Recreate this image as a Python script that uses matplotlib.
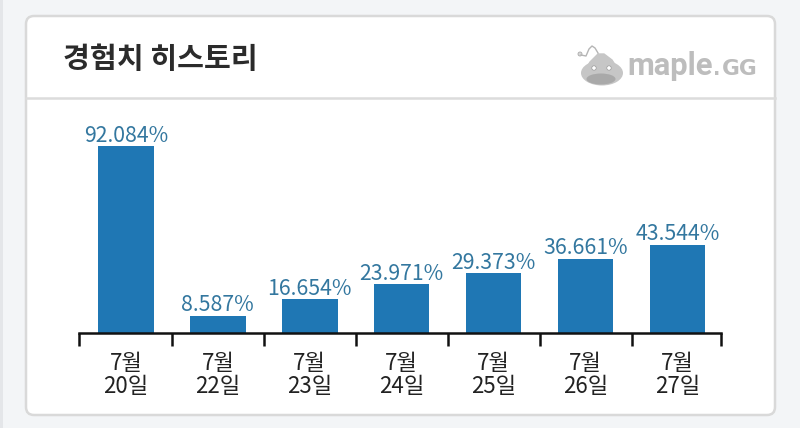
import matplotlib
matplotlib.use('Agg')
import matplotlib.pyplot as plt
from matplotlib.patches import FancyBboxPatch, Ellipse, Polygon, Circle
import numpy as np

plt.rcParams['font.family'] = ['Noto Sans CJK KR', 'DejaVu Sans']

dates = ['7월\n20일', '7월\n22일', '7월\n23일', '7월\n24일', '7월\n25일', '7월\n26일', '7월\n27일']
exp_pct = [92.084, 8.587, 16.654, 23.971, 29.373, 36.661, 43.544]

W, H = 800, 428
fig = plt.figure(figsize=(8, 4.28), dpi=100, facecolor='#f3f5f7')

# page layer in pixel coordinates
bg = fig.add_axes([0, 0, 1, 1])
bg.set_xlim(0, W)
bg.set_ylim(H, 0)
bg.axis('off')
bg.add_patch(plt.Rectangle((0, 0), 3, H, color='#e4e6e9', lw=0))
bg.add_patch(FancyBboxPatch((26, 16), 749, 399, boxstyle='round,pad=0,rounding_size=8',
                            fc='white', ec='#d9d9d9', lw=1.8))
bg.plot([26, 775], [98, 98], color='#dcdcdc', lw=1.8)
bg.text(63, 59, '경험치 히스토리', fontsize=21, fontweight='bold', color='#2b2b2b', va='center')

# logo
logo = '#c6c6c6'
bg.add_patch(Polygon([[583, 74], [590, 62], [598, 54], [604, 54], [612, 60], [621, 74]],
                     closed=True, fc=logo, ec=logo, lw=1))
bg.add_patch(Ellipse((602, 73), 42, 25, fc=logo, ec='none'))
bg.add_patch(Ellipse((601, 79), 29, 11, fc='#a9a9a9', ec='none'))
bg.add_patch(Circle((594, 68), 2.2, fc='white', ec='#999999', lw=0.5))
bg.add_patch(Circle((609, 68), 2.2, fc='white', ec='#999999', lw=0.5))
bg.add_patch(Circle((580, 54), 2, fc='#d8d8d8', ec='#aaaaaa', lw=0.6))
bg.plot([581, 586, 589, 592, 595, 598], [55, 56, 49, 46, 48, 53], color='#b5b5b5', lw=1)
bg.text(627, 75, 'maple', fontsize=22.3, fontweight='bold', color='#bdbdbd',
        family='Roboto', va='baseline')
bg.text(713, 75, '.', fontsize=14, fontweight='bold', color='#bdbdbd',
        family='DejaVu Sans', va='baseline')
bg.text(722, 75, 'GG', fontsize=15.6, fontweight='bold', color='#bdbdbd',
        family='DejaVu Sans', va='baseline')

# chart axes, x 79-721 px, baseline y 333, 2.03 px per percent
top = 130
ax = fig.add_axes([79 / W, 1 - 333 / H, 642 / W, (333 - top) / H])
ax.patch.set_alpha(0)
x = np.arange(len(dates))
ax.bar(x, exp_pct, width=0.604, color='#1f77b4')
xmin, xmax = -0.511, 6.475
ax.set_xlim(xmin, xmax)
ax.set_ylim(0, (333 - top) / 2.03)
for xi, v in zip(x, exp_pct):
    ax.annotate(f'{v}%', (xi, v), xytext=(0, -0.5), textcoords='offset points', ha='center', va='bottom',
                fontsize=15.3, color='#33779f', annotation_clip=False)
for s in ['top', 'left', 'right']:
    ax.spines[s].set_visible(False)
ax.spines['bottom'].set_linewidth(1.8)
ax.spines['bottom'].set_color('#111111')
ax.set_yticks([])
ax.set_xticks([xmin] + [i + 0.505 for i in x[:-1]] + [xmax])
ax.tick_params(axis='x', which='major', length=9.4, width=1.8, color='#111111', labelbottom=False)
ax.set_xticks(x, minor=True)
ax.set_xticklabels(dates, minor=True, fontsize=16, color='#222222', linespacing=1.0)
ax.tick_params(axis='x', which='minor', length=0, pad=13.7)

fig.savefig('out.png', dpi=100, facecolor=fig.get_facecolor())
